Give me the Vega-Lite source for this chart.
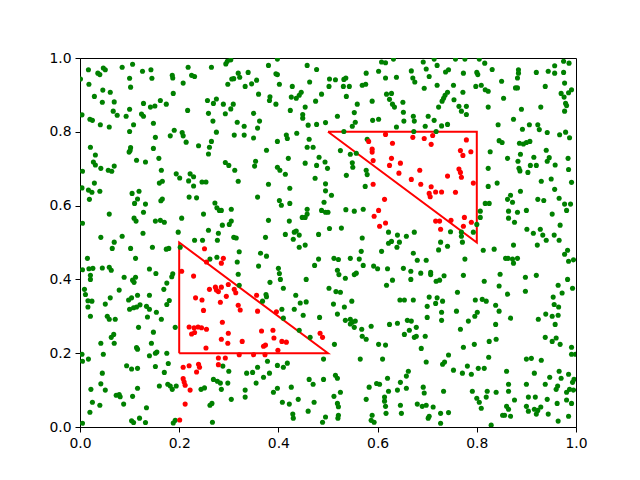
{
"$schema":"https://vega.github.io/schema/vega-lite/v6.json",
"width":496,"height":369,
"autosize":{"type":"none"},
"padding":{"left":80,"top":58,"right":64,"bottom":53},
"background":"white",
"config":{"view":{"stroke":"black","strokeWidth":1}},
"datasets":{
"tri":[{"t":1,"o":0,"x":0.2,"y":0.2},{"t":1,"o":1,"x":0.2,"y":0.5},{"t":1,"o":2,"x":0.5,"y":0.2},{"t":1,"o":3,"x":0.2,"y":0.2},{"t":2,"o":0,"x":0.5,"y":0.8},{"t":2,"o":1,"x":0.8,"y":0.8},{"t":2,"o":2,"x":0.8,"y":0.5},{"t":2,"o":3,"x":0.5,"y":0.8}],
"red":[
{"x":0.616,"y":0.793},{"x":0.630,"y":0.769},{"x":0.582,"y":0.774},{"x":0.589,"y":0.753},{"x":0.589,"y":0.745},{"x":0.591,"y":0.722},{"x":0.628,"y":0.728},{"x":0.624,"y":0.709},{"x":0.646,"y":0.715},{"x":0.671,"y":0.785},{"x":0.694,"y":0.782},{"x":0.711,"y":0.790},{"x":0.708,"y":0.766},{"x":0.643,"y":0.688},{"x":0.668,"y":0.671},{"x":0.685,"y":0.696},{"x":0.741,"y":0.680},
{"x":0.779,"y":0.778},{"x":0.767,"y":0.749},{"x":0.788,"y":0.746},{"x":0.772,"y":0.736},{"x":0.764,"y":0.699},{"x":0.767,"y":0.690},{"x":0.769,"y":0.677},
{"x":0.205,"y":0.422},{"x":0.229,"y":0.409},{"x":0.233,"y":0.350},{"x":0.246,"y":0.344},
{"x":0.251,"y":0.483},{"x":0.255,"y":0.447},{"x":0.285,"y":0.444},{"x":0.289,"y":0.457},{"x":0.261,"y":0.373},{"x":0.273,"y":0.379},{"x":0.275,"y":0.371},{"x":0.279,"y":0.367},{"x":0.285,"y":0.379},{"x":0.299,"y":0.386},{"x":0.311,"y":0.373},{"x":0.314,"y":0.364},{"x":0.295,"y":0.354},{"x":0.283,"y":0.338},{"x":0.319,"y":0.330},{"x":0.356,"y":0.357},
{"x":0.591,"y":0.658},{"x":0.687,"y":0.658},{"x":0.708,"y":0.651},{"x":0.704,"y":0.633},{"x":0.706,"y":0.624},{"x":0.717,"y":0.637},{"x":0.729,"y":0.637},{"x":0.614,"y":0.617},{"x":0.602,"y":0.587},{"x":0.593,"y":0.571},{"x":0.616,"y":0.553},{"x":0.604,"y":0.544},{"x":0.717,"y":0.558},{"x":0.725,"y":0.558},{"x":0.727,"y":0.536},
{"x":0.793,"y":0.661},{"x":0.757,"y":0.636},{"x":0.775,"y":0.568},{"x":0.748,"y":0.560},{"x":0.789,"y":0.555},{"x":0.773,"y":0.544},
{"x":0.220,"y":0.271},{"x":0.230,"y":0.269},{"x":0.238,"y":0.271},{"x":0.245,"y":0.269},{"x":0.225,"y":0.252},{"x":0.231,"y":0.256},{"x":0.208,"y":0.162},{"x":0.220,"y":0.166},{"x":0.239,"y":0.170},{"x":0.241,"y":0.162},{"x":0.235,"y":0.149},{"x":0.208,"y":0.131},{"x":0.210,"y":0.122},{"x":0.212,"y":0.113},{"x":0.222,"y":0.100},{"x":0.212,"y":0.062},{"x":0.201,"y":0.019},
{"x":0.249,"y":0.316},{"x":0.323,"y":0.317},{"x":0.358,"y":0.314},{"x":0.396,"y":0.312},{"x":0.287,"y":0.284},{"x":0.255,"y":0.265},{"x":0.299,"y":0.254},{"x":0.285,"y":0.238},{"x":0.298,"y":0.227},{"x":0.254,"y":0.214},{"x":0.327,"y":0.232},{"x":0.366,"y":0.260},{"x":0.389,"y":0.262},{"x":0.391,"y":0.241},{"x":0.407,"y":0.232},{"x":0.416,"y":0.230},{"x":0.370,"y":0.219},{"x":0.374,"y":0.222},{"x":0.399,"y":0.208},{"x":0.279,"y":0.187},{"x":0.279,"y":0.169},{"x":0.293,"y":0.187},{"x":0.321,"y":0.196},{"x":0.350,"y":0.196},{"x":0.373,"y":0.196},{"x":0.484,"y":0.254},{"x":0.489,"y":0.243}
],
"green":[
{"x":0.017,"y":0.968},{"x":0.036,"y":0.959},{"x":0.040,"y":0.955},{"x":0.047,"y":0.973},{"x":0.051,"y":0.968},{"x":0.085,"y":0.975},{"x":0.106,"y":0.983},{"x":0.126,"y":0.964},{"x":0.143,"y":0.968},{"x":0.145,"y":0.945},{"x":0.001,"y":0.943},{"x":0.018,"y":0.929},{"x":0.100,"y":0.945},{"x":0.102,"y":0.921},{"x":0.046,"y":0.913},{"x":0.061,"y":0.907},{"x":0.029,"y":0.896},{"x":0.045,"y":0.880},{"x":0.069,"y":0.881},{"x":0.186,"y":0.953},{"x":0.187,"y":0.946},{"x":0.208,"y":0.932},{"x":0.218,"y":0.975},{"x":0.225,"y":0.953},{"x":0.231,"y":0.950},{"x":0.188,"y":0.904},{"x":0.162,"y":0.885},{"x":0.174,"y":0.875},{"x":0.151,"y":0.870},{"x":0.142,"y":0.867},{"x":0.128,"y":0.877},{"x":0.100,"y":0.861},{"x":0.067,"y":0.856},{"x":0.075,"y":0.845},{"x":0.093,"y":0.842},{"x":0.124,"y":0.848},{"x":0.128,"y":0.842},{"x":0.004,"y":0.846},{"x":0.020,"y":0.834},{"x":0.025,"y":0.831},{"x":0.041,"y":0.819},{"x":0.059,"y":0.813},{"x":0.108,"y":0.819},{"x":0.148,"y":0.823},{"x":0.100,"y":0.801},{"x":0.217,"y":0.858},{"x":0.152,"y":0.785},{"x":0.182,"y":0.789},{"x":0.190,"y":0.804},{"x":0.206,"y":0.798},{"x":0.208,"y":0.789},{"x":0.214,"y":0.772},{"x":0.239,"y":0.762},{"x":0.021,"y":0.758},{"x":0.031,"y":0.737},{"x":0.102,"y":0.757},{"x":0.101,"y":0.749},{"x":0.099,"y":0.745},{"x":0.148,"y":0.755},{"x":0.114,"y":0.723},{"x":0.132,"y":0.718},{"x":0.159,"y":0.728},{"x":0.027,"y":0.718},{"x":0.031,"y":0.710},{"x":0.042,"y":0.701},{"x":0.057,"y":0.696},{"x":0.064,"y":0.693},{"x":0.069,"y":0.707},{"x":0.005,"y":0.693},{"x":0.164,"y":0.696},{"x":0.194,"y":0.686},{"x":0.201,"y":0.675},{"x":0.222,"y":0.686},{"x":0.229,"y":0.678},
{"x":0.265,"y":0.975},{"x":0.294,"y":0.984},{"x":0.297,"y":0.991},{"x":0.304,"y":0.995},{"x":0.380,"y":0.980},{"x":0.398,"y":0.997},{"x":0.458,"y":0.980},{"x":0.477,"y":0.969},{"x":0.319,"y":0.959},{"x":0.322,"y":0.948},{"x":0.339,"y":0.961},{"x":0.306,"y":0.943},{"x":0.310,"y":0.944},{"x":0.298,"y":0.929},{"x":0.333,"y":0.923},{"x":0.346,"y":0.930},{"x":0.356,"y":0.940},{"x":0.395,"y":0.957},{"x":0.398,"y":0.955},{"x":0.402,"y":0.929},{"x":0.428,"y":0.923},{"x":0.463,"y":0.935},{"x":0.360,"y":0.902},{"x":0.383,"y":0.895},{"x":0.382,"y":0.885},{"x":0.395,"y":0.875},{"x":0.426,"y":0.894},{"x":0.436,"y":0.891},{"x":0.442,"y":0.899},{"x":0.446,"y":0.907},{"x":0.487,"y":0.902},{"x":0.475,"y":0.883},{"x":0.257,"y":0.885},{"x":0.269,"y":0.877},{"x":0.275,"y":0.889},{"x":0.289,"y":0.875},{"x":0.309,"y":0.875},{"x":0.304,"y":0.862},{"x":0.259,"y":0.850},{"x":0.293,"y":0.849},{"x":0.350,"y":0.850},{"x":0.424,"y":0.858},{"x":0.454,"y":0.867},{"x":0.449,"y":0.847},{"x":0.449,"y":0.837},{"x":0.268,"y":0.829},{"x":0.317,"y":0.826},{"x":0.331,"y":0.815},{"x":0.362,"y":0.829},{"x":0.358,"y":0.810},{"x":0.460,"y":0.818},{"x":0.477,"y":0.820},{"x":0.275,"y":0.799},{"x":0.311,"y":0.791},{"x":0.331,"y":0.791},{"x":0.350,"y":0.783},{"x":0.416,"y":0.791},{"x":0.418,"y":0.782},{"x":0.437,"y":0.796},{"x":0.398,"y":0.774},{"x":0.265,"y":0.774},{"x":0.261,"y":0.758},{"x":0.259,"y":0.740},{"x":0.376,"y":0.750},{"x":0.458,"y":0.758},{"x":0.470,"y":0.758},{"x":0.462,"y":0.780},{"x":0.420,"y":0.728},{"x":0.482,"y":0.731},{"x":0.293,"y":0.717},{"x":0.300,"y":0.709},{"x":0.312,"y":0.696},{"x":0.354,"y":0.720},{"x":0.352,"y":0.707},{"x":0.398,"y":0.704},{"x":0.403,"y":0.696},{"x":0.414,"y":0.685},{"x":0.454,"y":0.715},{"x":0.477,"y":0.709},{"x":0.474,"y":0.674},
{"x":0.608,"y":0.989},{"x":0.616,"y":0.987},{"x":0.632,"y":0.997},{"x":0.692,"y":0.989},{"x":0.714,"y":0.997},{"x":0.503,"y":0.943},{"x":0.515,"y":0.941},{"x":0.532,"y":0.942},{"x":0.536,"y":0.946},{"x":0.531,"y":0.923},{"x":0.543,"y":0.923},{"x":0.502,"y":0.923},{"x":0.569,"y":0.926},{"x":0.576,"y":0.929},{"x":0.577,"y":0.959},{"x":0.602,"y":0.964},{"x":0.616,"y":0.946},{"x":0.638,"y":0.948},{"x":0.668,"y":0.965},{"x":0.698,"y":0.970},{"x":0.720,"y":0.980},{"x":0.737,"y":0.962},{"x":0.743,"y":0.968},{"x":0.671,"y":0.946},{"x":0.675,"y":0.935},{"x":0.704,"y":0.950},{"x":0.720,"y":0.926},{"x":0.537,"y":0.896},{"x":0.618,"y":0.902},{"x":0.628,"y":0.904},{"x":0.624,"y":0.888},{"x":0.630,"y":0.875},{"x":0.634,"y":0.867},{"x":0.651,"y":0.880},{"x":0.694,"y":0.918},{"x":0.733,"y":0.891},{"x":0.736,"y":0.899},{"x":0.741,"y":0.907},{"x":0.730,"y":0.883},{"x":0.723,"y":0.867},{"x":0.559,"y":0.875},{"x":0.589,"y":0.883},{"x":0.553,"y":0.852},{"x":0.519,"y":0.842},{"x":0.652,"y":0.853},{"x":0.672,"y":0.842},{"x":0.674,"y":0.829},{"x":0.653,"y":0.829},{"x":0.702,"y":0.842},{"x":0.714,"y":0.831},{"x":0.590,"y":0.831},{"x":0.602,"y":0.834},{"x":0.555,"y":0.826},{"x":0.549,"y":0.815},{"x":0.638,"y":0.813},{"x":0.696,"y":0.815},{"x":0.729,"y":0.816},{"x":0.741,"y":0.820},{"x":0.495,"y":0.825},{"x":0.532,"y":0.801},{"x":0.673,"y":0.801},{"x":0.718,"y":0.801},{"x":0.579,"y":0.780},{"x":0.525,"y":0.749},{"x":0.545,"y":0.739},{"x":0.557,"y":0.742},{"x":0.549,"y":0.716},{"x":0.550,"y":0.704},{"x":0.494,"y":0.718},{"x":0.499,"y":0.701},{"x":0.577,"y":0.696},{"x":0.579,"y":0.684},{"x":0.537,"y":0.682},
{"x":0.757,"y":0.997},{"x":0.776,"y":0.997},{"x":0.805,"y":0.997},{"x":0.816,"y":0.986},{"x":0.773,"y":0.959},{"x":0.800,"y":0.961},{"x":0.802,"y":0.955},{"x":0.831,"y":0.969},{"x":0.884,"y":0.968},{"x":0.884,"y":0.959},{"x":0.920,"y":0.961},{"x":0.944,"y":0.964},{"x":0.957,"y":0.979},{"x":0.957,"y":0.959},{"x":0.975,"y":0.961},{"x":0.975,"y":0.991},{"x":0.986,"y":0.986},{"x":0.753,"y":0.926},{"x":0.798,"y":0.923},{"x":0.809,"y":0.926},{"x":0.817,"y":0.914},{"x":0.823,"y":0.910},{"x":0.850,"y":0.937},{"x":0.882,"y":0.946},{"x":0.878,"y":0.919},{"x":0.882,"y":0.919},{"x":0.938,"y":0.923},{"x":0.977,"y":0.932},{"x":0.991,"y":0.914},{"x":0.985,"y":0.906},{"x":0.970,"y":0.904},{"x":0.976,"y":0.894},{"x":0.979,"y":0.877},{"x":0.981,"y":0.871},{"x":0.977,"y":0.856},{"x":0.754,"y":0.887},{"x":0.772,"y":0.907},{"x":0.764,"y":0.869},{"x":0.779,"y":0.869},{"x":0.769,"y":0.856},{"x":0.779,"y":0.847},{"x":0.823,"y":0.867},{"x":0.854,"y":0.891},{"x":0.890,"y":0.861},{"x":0.929,"y":0.867},{"x":0.874,"y":0.834},{"x":0.843,"y":0.819},{"x":0.892,"y":0.807},{"x":0.906,"y":0.819},{"x":0.923,"y":0.819},{"x":0.926,"y":0.806},{"x":0.942,"y":0.798},{"x":0.967,"y":0.792},{"x":0.979,"y":0.799},{"x":0.987,"y":0.784},{"x":0.827,"y":0.746},{"x":0.845,"y":0.776},{"x":0.851,"y":0.771},{"x":0.886,"y":0.769},{"x":0.894,"y":0.767},{"x":0.900,"y":0.771},{"x":0.907,"y":0.774},{"x":0.888,"y":0.739},{"x":0.862,"y":0.728},{"x":0.883,"y":0.720},{"x":0.915,"y":0.731},{"x":0.940,"y":0.750},{"x":0.942,"y":0.720},{"x":0.946,"y":0.730},{"x":0.958,"y":0.710},{"x":0.984,"y":0.728},{"x":0.908,"y":0.709},{"x":0.920,"y":0.709},{"x":0.885,"y":0.701},{"x":0.887,"y":0.694},{"x":0.903,"y":0.690},{"x":0.823,"y":0.701},{"x":0.950,"y":0.672},{"x":0.985,"y":0.698},
{"x":0.004,"y":0.648},{"x":0.017,"y":0.642},{"x":0.024,"y":0.636},{"x":0.019,"y":0.617},{"x":0.040,"y":0.639},{"x":0.029,"y":0.661},{"x":0.105,"y":0.633},{"x":0.119,"y":0.639},{"x":0.116,"y":0.618},{"x":0.110,"y":0.606},{"x":0.132,"y":0.604},{"x":0.128,"y":0.582},{"x":0.160,"y":0.661},{"x":0.166,"y":0.666},{"x":0.166,"y":0.618},{"x":0.163,"y":0.613},{"x":0.219,"y":0.667},{"x":0.229,"y":0.653},{"x":0.246,"y":0.664},{"x":0.220,"y":0.623},{"x":0.235,"y":0.621},{"x":0.059,"y":0.577},{"x":0.005,"y":0.552},{"x":0.109,"y":0.566},{"x":0.113,"y":0.558},{"x":0.152,"y":0.558},{"x":0.162,"y":0.560},{"x":0.170,"y":0.555},{"x":0.205,"y":0.566},{"x":0.127,"y":0.525},{"x":0.198,"y":0.528},{"x":0.042,"y":0.514},{"x":0.069,"y":0.501},{"x":0.085,"y":0.517},{"x":0.065,"y":0.484},{"x":0.102,"y":0.484},{"x":0.146,"y":0.487},{"x":0.174,"y":0.482},{"x":0.179,"y":0.484},{"x":0.231,"y":0.506},{"x":0.247,"y":0.506},{"x":0.202,"y":0.487},{"x":0.112,"y":0.457},{"x":0.015,"y":0.457},{"x":0.018,"y":0.429},{"x":0.026,"y":0.430},{"x":0.005,"y":0.426},{"x":0.045,"y":0.431},{"x":0.059,"y":0.433},{"x":0.063,"y":0.425},{"x":0.021,"y":0.411},{"x":0.021,"y":0.400},{"x":0.140,"y":0.428},{"x":0.153,"y":0.416},{"x":0.187,"y":0.415},{"x":0.185,"y":0.407},{"x":0.089,"y":0.406},{"x":0.106,"y":0.398},{"x":0.112,"y":0.406},{"x":0.109,"y":0.392},{"x":0.175,"y":0.390},{"x":0.009,"y":0.373},{"x":0.011,"y":0.359},{"x":0.079,"y":0.371},{"x":0.116,"y":0.357},{"x":0.104,"y":0.350},{"x":0.098,"y":0.344},{"x":0.140,"y":0.357},{"x":0.169,"y":0.373},{"x":0.061,"y":0.350},{"x":0.051,"y":0.333},{"x":0.016,"y":0.342},{"x":0.024,"y":0.341},{"x":0.180,"y":0.343},{"x":0.175,"y":0.332},{"x":0.121,"y":0.331},
{"x":0.254,"y":0.664},{"x":0.319,"y":0.666},{"x":0.380,"y":0.658},{"x":0.423,"y":0.647},{"x":0.358,"y":0.623},{"x":0.402,"y":0.614},{"x":0.406,"y":0.601},{"x":0.423,"y":0.606},{"x":0.495,"y":0.640},{"x":0.272,"y":0.607},{"x":0.276,"y":0.594},{"x":0.281,"y":0.587},{"x":0.285,"y":0.587},{"x":0.305,"y":0.590},{"x":0.249,"y":0.577},{"x":0.380,"y":0.560},{"x":0.422,"y":0.558},{"x":0.448,"y":0.568},{"x":0.454,"y":0.568},{"x":0.458,"y":0.577},{"x":0.458,"y":0.590},{"x":0.487,"y":0.587},{"x":0.495,"y":0.582},{"x":0.305,"y":0.558},{"x":0.301,"y":0.549},{"x":0.287,"y":0.547},{"x":0.259,"y":0.533},{"x":0.279,"y":0.525},{"x":0.277,"y":0.506},{"x":0.310,"y":0.514},{"x":0.315,"y":0.512},{"x":0.374,"y":0.514},{"x":0.414,"y":0.522},{"x":0.432,"y":0.528},{"x":0.436,"y":0.531},{"x":0.442,"y":0.520},{"x":0.430,"y":0.509},{"x":0.481,"y":0.522},{"x":0.442,"y":0.487},{"x":0.454,"y":0.493},{"x":0.321,"y":0.475},{"x":0.364,"y":0.471},{"x":0.376,"y":0.463},{"x":0.262,"y":0.455},{"x":0.276,"y":0.460},{"x":0.317,"y":0.447},{"x":0.360,"y":0.436},{"x":0.400,"y":0.430},{"x":0.402,"y":0.416},{"x":0.404,"y":0.400},{"x":0.383,"y":0.392},{"x":0.319,"y":0.414},{"x":0.321,"y":0.384},{"x":0.410,"y":0.376},{"x":0.456,"y":0.400},{"x":0.481,"y":0.455},{"x":0.473,"y":0.438},{"x":0.375,"y":0.359},{"x":0.376,"y":0.353},{"x":0.435,"y":0.357},{"x":0.444,"y":0.336},{"x":0.456,"y":0.339},{"x":0.368,"y":0.341},
{"x":0.495,"y":0.659},{"x":0.507,"y":0.628},{"x":0.492,"y":0.609},{"x":0.500,"y":0.582},{"x":0.575,"y":0.652},{"x":0.536,"y":0.589},{"x":0.553,"y":0.585},{"x":0.571,"y":0.590},{"x":0.503,"y":0.538},{"x":0.527,"y":0.539},{"x":0.622,"y":0.528},{"x":0.640,"y":0.520},{"x":0.658,"y":0.517},{"x":0.674,"y":0.528},{"x":0.569,"y":0.512},{"x":0.622,"y":0.498},{"x":0.628,"y":0.503},{"x":0.644,"y":0.501},{"x":0.639,"y":0.487},{"x":0.727,"y":0.501},{"x":0.723,"y":0.480},{"x":0.741,"y":0.490},{"x":0.608,"y":0.476},{"x":0.672,"y":0.471},{"x":0.567,"y":0.476},{"x":0.512,"y":0.457},{"x":0.521,"y":0.454},{"x":0.545,"y":0.457},{"x":0.563,"y":0.455},{"x":0.571,"y":0.438},{"x":0.592,"y":0.436},{"x":0.600,"y":0.429},{"x":0.620,"y":0.429},{"x":0.652,"y":0.430},{"x":0.667,"y":0.422},{"x":0.680,"y":0.452},{"x":0.698,"y":0.452},{"x":0.687,"y":0.417},{"x":0.707,"y":0.419},{"x":0.707,"y":0.413},{"x":0.519,"y":0.425},{"x":0.522,"y":0.413},{"x":0.535,"y":0.403},{"x":0.553,"y":0.413},{"x":0.557,"y":0.417},{"x":0.630,"y":0.398},{"x":0.618,"y":0.384},{"x":0.667,"y":0.400},{"x":0.718,"y":0.395},{"x":0.725,"y":0.398},{"x":0.734,"y":0.410},{"x":0.502,"y":0.376},{"x":0.516,"y":0.367},{"x":0.525,"y":0.365},{"x":0.548,"y":0.341},{"x":0.645,"y":0.344},{"x":0.654,"y":0.344},{"x":0.672,"y":0.344},{"x":0.704,"y":0.352},{"x":0.720,"y":0.350},{"x":0.731,"y":0.341},{"x":0.717,"y":0.335},
{"x":0.823,"y":0.652},{"x":0.841,"y":0.661},{"x":0.930,"y":0.666},{"x":0.991,"y":0.663},{"x":0.868,"y":0.628},{"x":0.862,"y":0.617},{"x":0.872,"y":0.609},{"x":0.888,"y":0.639},{"x":0.923,"y":0.617},{"x":0.935,"y":0.614},{"x":0.957,"y":0.644},{"x":0.966,"y":0.620},{"x":0.977,"y":0.604},{"x":0.989,"y":0.604},{"x":0.981,"y":0.587},{"x":0.817,"y":0.606},{"x":0.825,"y":0.606},{"x":0.807,"y":0.585},{"x":0.807,"y":0.568},{"x":0.864,"y":0.585},{"x":0.882,"y":0.582},{"x":0.900,"y":0.587},{"x":0.864,"y":0.566},{"x":0.876,"y":0.555},{"x":0.952,"y":0.577},{"x":0.968,"y":0.547},{"x":0.800,"y":0.549},{"x":0.747,"y":0.529},{"x":0.769,"y":0.528},{"x":0.769,"y":0.517},{"x":0.793,"y":0.528},{"x":0.771,"y":0.501},{"x":0.901,"y":0.536},{"x":0.914,"y":0.525},{"x":0.928,"y":0.536},{"x":0.933,"y":0.520},{"x":0.940,"y":0.506},{"x":0.956,"y":0.520},{"x":0.966,"y":0.506},{"x":0.813,"y":0.479},{"x":0.835,"y":0.482},{"x":0.874,"y":0.493},{"x":0.922,"y":0.493},{"x":0.983,"y":0.479},{"x":0.977,"y":0.468},{"x":0.985,"y":0.449},{"x":0.995,"y":0.453},{"x":0.776,"y":0.455},{"x":0.858,"y":0.457},{"x":0.863,"y":0.457},{"x":0.872,"y":0.455},{"x":0.882,"y":0.457},{"x":0.874,"y":0.444},{"x":0.773,"y":0.411},{"x":0.847,"y":0.414},{"x":0.898,"y":0.406},{"x":0.920,"y":0.411},{"x":0.815,"y":0.395},{"x":0.845,"y":0.382},{"x":0.964,"y":0.384},{"x":0.983,"y":0.400},{"x":0.993,"y":0.376},{"x":0.761,"y":0.365},{"x":0.862,"y":0.360},{"x":0.898,"y":0.368},{"x":0.972,"y":0.363},{"x":0.954,"y":0.352},{"x":0.797,"y":0.344},{"x":0.811,"y":0.346},{"x":0.819,"y":0.341},{"x":0.838,"y":0.330},{"x":0.956,"y":0.332},
{"x":0.016,"y":0.325},{"x":0.021,"y":0.300},{"x":0.055,"y":0.300},{"x":0.059,"y":0.292},{"x":0.071,"y":0.292},{"x":0.100,"y":0.319},{"x":0.108,"y":0.323},{"x":0.114,"y":0.325},{"x":0.134,"y":0.327},{"x":0.140,"y":0.319},{"x":0.136,"y":0.298},{"x":0.154,"y":0.311},{"x":0.164,"y":0.292},{"x":0.118,"y":0.270},{"x":0.148,"y":0.257},{"x":0.063,"y":0.243},{"x":0.068,"y":0.251},{"x":0.042,"y":0.227},{"x":0.069,"y":0.227},{"x":0.192,"y":0.270},{"x":0.114,"y":0.215},{"x":0.116,"y":0.211},{"x":0.144,"y":0.227},{"x":0.140,"y":0.193},{"x":0.047,"y":0.197},{"x":0.017,"y":0.184},{"x":0.004,"y":0.197},{"x":0.005,"y":0.178},{"x":0.152,"y":0.200},{"x":0.155,"y":0.203},{"x":0.175,"y":0.200},{"x":0.152,"y":0.164},{"x":0.178,"y":0.172},{"x":0.170,"y":0.148},{"x":0.094,"y":0.166},{"x":0.104,"y":0.157},{"x":0.116,"y":0.159},{"x":0.045,"y":0.146},{"x":0.042,"y":0.117},{"x":0.051,"y":0.100},{"x":0.022,"y":0.102},{"x":0.116,"y":0.105},{"x":0.073,"y":0.086},{"x":0.079,"y":0.088},{"x":0.081,"y":0.082},{"x":0.088,"y":0.062},{"x":0.106,"y":0.083},{"x":0.160,"y":0.111},{"x":0.177,"y":0.116},{"x":0.182,"y":0.111},{"x":0.186,"y":0.102},{"x":0.194,"y":0.111},{"x":0.025,"y":0.067},{"x":0.040,"y":0.059},{"x":0.020,"y":0.040},{"x":0.134,"y":0.052},{"x":0.104,"y":0.017},{"x":0.108,"y":0.012},{"x":0.120,"y":0.024},{"x":0.132,"y":0.012},{"x":0.188,"y":0.011},{"x":0.192,"y":0.018},{"x":0.005,"y":0.010},
{"x":0.407,"y":0.319},{"x":0.410,"y":0.295},{"x":0.432,"y":0.319},{"x":0.450,"y":0.303},{"x":0.483,"y":0.297},{"x":0.442,"y":0.262},{"x":0.464,"y":0.243},{"x":0.491,"y":0.184},{"x":0.378,"y":0.178},{"x":0.398,"y":0.167},{"x":0.410,"y":0.162},{"x":0.418,"y":0.173},{"x":0.288,"y":0.165},{"x":0.300,"y":0.151},{"x":0.336,"y":0.146},{"x":0.348,"y":0.148},{"x":0.358,"y":0.162},{"x":0.370,"y":0.135},{"x":0.382,"y":0.146},{"x":0.269,"y":0.129},{"x":0.277,"y":0.124},{"x":0.283,"y":0.119},{"x":0.298,"y":0.119},{"x":0.285,"y":0.102},{"x":0.355,"y":0.119},{"x":0.390,"y":0.094},{"x":0.398,"y":0.105},{"x":0.426,"y":0.108},{"x":0.462,"y":0.129},{"x":0.470,"y":0.116},{"x":0.491,"y":0.129},{"x":0.251,"y":0.106},{"x":0.244,"y":0.102},{"x":0.333,"y":0.100},{"x":0.333,"y":0.081},{"x":0.305,"y":0.075},{"x":0.262,"y":0.059},{"x":0.266,"y":0.064},{"x":0.408,"y":0.067},{"x":0.440,"y":0.075},{"x":0.422,"y":0.062},{"x":0.460,"y":0.043},{"x":0.472,"y":0.067},{"x":0.429,"y":0.035},{"x":0.430,"y":0.024},{"x":0.267,"y":0.013},{"x":0.489,"y":0.013},{"x":0.495,"y":0.027},
{"x":0.511,"y":0.333},{"x":0.533,"y":0.325},{"x":0.519,"y":0.306},{"x":0.535,"y":0.289},{"x":0.545,"y":0.292},{"x":0.549,"y":0.284},{"x":0.555,"y":0.287},{"x":0.545,"y":0.279},{"x":0.553,"y":0.270},{"x":0.568,"y":0.265},{"x":0.587,"y":0.273},{"x":0.624,"y":0.278},{"x":0.640,"y":0.281},{"x":0.660,"y":0.289},{"x":0.668,"y":0.287},{"x":0.678,"y":0.270},{"x":0.664,"y":0.262},{"x":0.654,"y":0.251},{"x":0.674,"y":0.243},{"x":0.678,"y":0.246},{"x":0.696,"y":0.246},{"x":0.700,"y":0.297},{"x":0.700,"y":0.327},{"x":0.729,"y":0.311},{"x":0.729,"y":0.289},{"x":0.569,"y":0.246},{"x":0.577,"y":0.238},{"x":0.602,"y":0.224},{"x":0.616,"y":0.222},{"x":0.513,"y":0.224},{"x":0.688,"y":0.213},{"x":0.743,"y":0.195},{"x":0.735,"y":0.176},{"x":0.731,"y":0.170},{"x":0.698,"y":0.176},{"x":0.610,"y":0.184},{"x":0.565,"y":0.184},{"x":0.515,"y":0.140},{"x":0.519,"y":0.132},{"x":0.525,"y":0.094},{"x":0.512,"y":0.083},{"x":0.519,"y":0.064},{"x":0.521,"y":0.055},{"x":0.521,"y":0.032},{"x":0.520,"y":0.024},{"x":0.583,"y":0.108},{"x":0.598,"y":0.118},{"x":0.604,"y":0.116},{"x":0.620,"y":0.132},{"x":0.646,"y":0.121},{"x":0.658,"y":0.138},{"x":0.662,"y":0.151},{"x":0.622,"y":0.097},{"x":0.640,"y":0.100},{"x":0.658,"y":0.105},{"x":0.614,"y":0.081},{"x":0.614,"y":0.070},{"x":0.577,"y":0.075},{"x":0.616,"y":0.056},{"x":0.617,"y":0.037},{"x":0.646,"y":0.059},{"x":0.648,"y":0.037},{"x":0.692,"y":0.108},{"x":0.694,"y":0.092},{"x":0.680,"y":0.062},{"x":0.690,"y":0.056},{"x":0.698,"y":0.059},{"x":0.712,"y":0.054},{"x":0.704,"y":0.029},{"x":0.702,"y":0.024},{"x":0.727,"y":0.037},{"x":0.743,"y":0.039},{"x":0.733,"y":0.097},{"x":0.589,"y":0.032},{"x":0.587,"y":0.018},{"x":0.593,"y":0.013},{"x":0.727,"y":0.010},
{"x":0.759,"y":0.314},{"x":0.796,"y":0.300},{"x":0.801,"y":0.311},{"x":0.783,"y":0.287},{"x":0.767,"y":0.265},{"x":0.845,"y":0.314},{"x":0.868,"y":0.295},{"x":0.838,"y":0.278},{"x":0.825,"y":0.232},{"x":0.839,"y":0.238},{"x":0.795,"y":0.224},{"x":0.773,"y":0.216},{"x":0.824,"y":0.189},{"x":0.753,"y":0.154},{"x":0.771,"y":0.146},{"x":0.781,"y":0.165},{"x":0.789,"y":0.143},{"x":0.803,"y":0.159},{"x":0.815,"y":0.159},{"x":0.860,"y":0.151},{"x":0.965,"y":0.325},{"x":0.964,"y":0.303},{"x":0.952,"y":0.300},{"x":0.939,"y":0.306},{"x":0.924,"y":0.292},{"x":0.958,"y":0.278},{"x":0.938,"y":0.243},{"x":0.952,"y":0.232},{"x":0.960,"y":0.241},{"x":0.968,"y":0.224},{"x":0.991,"y":0.216},{"x":0.991,"y":0.197},{"x":0.999,"y":0.197},{"x":0.900,"y":0.184},{"x":0.910,"y":0.186},{"x":0.930,"y":0.181},{"x":0.916,"y":0.146},{"x":0.947,"y":0.135},{"x":0.966,"y":0.151},{"x":0.970,"y":0.132},{"x":0.985,"y":0.143},{"x":0.993,"y":0.121},{"x":0.996,"y":0.129},{"x":0.791,"y":0.097},{"x":0.821,"y":0.097},{"x":0.839,"y":0.094},{"x":0.864,"y":0.116},{"x":0.864,"y":0.097},{"x":0.900,"y":0.116},{"x":0.938,"y":0.116},{"x":0.963,"y":0.111},{"x":0.960,"y":0.102},{"x":0.981,"y":0.094},{"x":0.987,"y":0.102},{"x":0.995,"y":0.100},{"x":0.800,"y":0.078},{"x":0.805,"y":0.067},{"x":0.809,"y":0.051},{"x":0.819,"y":0.081},{"x":0.876,"y":0.073},{"x":0.860,"y":0.056},{"x":0.864,"y":0.048},{"x":0.852,"y":0.032},{"x":0.856,"y":0.032},{"x":0.868,"y":0.029},{"x":0.900,"y":0.056},{"x":0.904,"y":0.043},{"x":0.904,"y":0.081},{"x":0.918,"y":0.081},{"x":0.942,"y":0.075},{"x":0.916,"y":0.048},{"x":0.923,"y":0.045},{"x":0.929,"y":0.054},{"x":0.920,"y":0.035},{"x":0.944,"y":0.035},{"x":0.962,"y":0.064},{"x":0.981,"y":0.073},{"x":0.991,"y":0.064},{"x":0.985,"y":0.029},{"x":0.964,"y":0.016},{"x":0.829,"y":0.005}
]},
"encoding":{
"x":{"field":"x","type":"quantitative","scale":{"domain":[0,1],"nice":false,"zero":false},
 "axis":{"values":[0,0.2,0.4,0.6,0.8,1],"format":".1f","grid":false,"title":null,"tickSize":5,"tickColor":"black","tickWidth":1,"domainColor":"black","domainWidth":1,"labelColor":"black","labelFont":"DejaVu Sans","labelFontSize":13.9,"labelPadding":4,"labelFlush":false}},
"y":{"field":"y","type":"quantitative","scale":{"domain":[0,1],"nice":false,"zero":false},
 "axis":{"values":[0,0.2,0.4,0.6,0.8,1],"format":".1f","grid":false,"title":null,"tickSize":5,"tickColor":"black","tickWidth":1,"domainColor":"black","domainWidth":1,"labelColor":"black","labelFont":"DejaVu Sans","labelFontSize":13.9,"labelPadding":4,"labelFlush":false}}
},
"layer":[
{"data":{"name":"tri"},"mark":{"type":"line","color":"red","strokeWidth":2,"clip":true},
 "encoding":{"detail":{"field":"t"},"order":{"field":"o"}}},
{"data":{"name":"green"},"mark":{"type":"circle","color":"green","size":26,"opacity":1,"clip":true}},
{"data":{"name":"red"},"mark":{"type":"circle","color":"red","size":26,"opacity":1,"clip":true}}
]
}
